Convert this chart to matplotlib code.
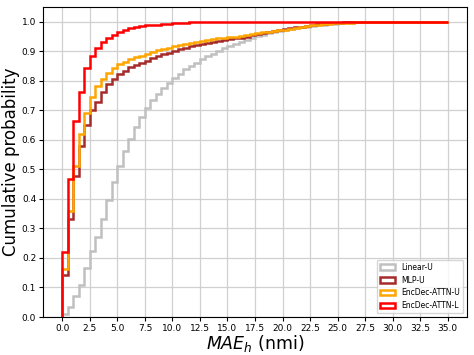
import numpy as np
import matplotlib
matplotlib.use('Agg')
import matplotlib.pyplot as plt
from matplotlib.patches import Patch

# bin edges of the cumulative histograms (nmi)
edges = np.arange(0, 35.5, 0.5)

# cumulative probability per bin
linear_u = [0.010, 0.033, 0.070, 0.110, 0.165, 0.223, 0.270, 0.333, 0.397, 0.458,
            0.511, 0.562, 0.604, 0.643, 0.678, 0.708, 0.734, 0.757, 0.777, 0.794,
            0.811, 0.824, 0.839, 0.850, 0.862, 0.873, 0.884, 0.892, 0.901, 0.910,
            0.918, 0.926, 0.933, 0.940, 0.946, 0.952, 0.957, 0.962, 0.966, 0.969,
            0.972, 0.975, 0.978, 0.981, 0.984, 0.986, 0.988, 0.990, 0.992, 0.994,
            0.995, 0.996, 0.997, 0.998, 0.998, 0.999, 0.999, 0.999, 0.999, 0.999,
            0.999, 0.999, 1.000, 1.000, 1.000, 1.000, 1.000, 1.000, 1.000, 1.000]
mlp_u = [0.142, 0.332, 0.478, 0.580, 0.652, 0.700, 0.729, 0.762, 0.789, 0.808,
         0.822, 0.835, 0.846, 0.854, 0.862, 0.869, 0.876, 0.883, 0.890, 0.896,
         0.901, 0.907, 0.912, 0.917, 0.921, 0.926, 0.929, 0.933, 0.936, 0.940,
         0.942, 0.944, 0.946, 0.950, 0.954, 0.958, 0.962, 0.966, 0.969, 0.972,
         0.975, 0.978, 0.981, 0.984, 0.987, 0.990, 0.992, 0.994, 0.995, 0.996,
         0.997, 0.998, 0.998, 0.999, 0.999, 0.999, 1.000, 1.000, 1.000, 1.000,
         1.000, 1.000, 1.000, 1.000, 1.000, 1.000, 1.000, 1.000, 1.000, 1.000]
encdec_u = [0.164, 0.359, 0.510, 0.619, 0.691, 0.746, 0.782, 0.808, 0.828, 0.845,
            0.856, 0.865, 0.873, 0.880, 0.886, 0.892, 0.898, 0.903, 0.907, 0.912,
            0.917, 0.921, 0.926, 0.929, 0.933, 0.936, 0.938, 0.941, 0.944, 0.946,
            0.948, 0.950, 0.952, 0.955, 0.958, 0.961, 0.964, 0.967, 0.969, 0.971,
            0.974, 0.977, 0.980, 0.983, 0.986, 0.988, 0.990, 0.992, 0.994, 0.995,
            0.996, 0.997, 0.997, 0.998, 0.998, 0.998, 0.998, 0.999, 0.999, 0.999,
            0.999, 0.999, 0.999, 0.999, 0.999, 1.000, 1.000, 1.000, 1.000, 1.000]
encdec_l = [0.220, 0.469, 0.664, 0.763, 0.845, 0.884, 0.912, 0.933, 0.944, 0.955,
            0.966, 0.972, 0.978, 0.982, 0.986, 0.988, 0.990, 0.991, 0.993, 0.994,
            0.995, 0.996, 0.997, 0.998, 0.998, 0.999, 0.999, 0.999, 0.999, 0.999,
            1.000, 1.000, 1.000, 1.000, 1.000, 1.000, 1.000, 1.000, 1.000, 1.000,
            1.000, 1.000, 1.000, 1.000, 1.000, 1.000, 1.000, 1.000, 1.000, 1.000,
            1.000, 1.000, 1.000, 1.000, 1.000, 1.000, 1.000, 1.000, 1.000, 1.000,
            1.000, 1.000, 1.000, 1.000, 1.000, 1.000, 1.000, 1.000, 1.000, 1.000]

labels = ['Linear-U', 'MLP-U', 'EncDec-ATTN-U', 'EncDec-ATTN-L']
series = [linear_u, mlp_u, encdec_u, encdec_l]
colors = ['#c0c0c0', '#a52a2a', 'orange', 'red']

fig = plt.figure(figsize=(4.74, 3.55), dpi=100)
ax = fig.add_axes([0.091, 0.107, 0.894, 0.873])

# step lines: start from 0 at the first edge, no drop at the right end
for vals, c in zip(series, colors):
    ax.stairs(np.r_[0, vals], np.r_[edges[0], edges], baseline=None,
              color=c, linewidth=1.8)

ax.set_xlim(-1.75, 36.75)
ax.set_ylim(0, 1.05)
ax.set_xticks(np.arange(0, 35.1, 2.5))
ax.set_yticks(np.arange(0, 1.01, 0.1))
ax.tick_params(labelsize=6.5, length=3, pad=2)
ax.grid(True, color='#d0d0d0', linewidth=0.9)
ax.set_axisbelow(True)

ax.set_xlabel('$MAE_h$ (nmi)', fontsize=12.5, labelpad=0)
ax.set_ylabel('Cumulative probability', fontsize=12, labelpad=1.5)

handles = [Patch(facecolor='white', edgecolor=c, linewidth=1.8) for c in colors]
ax.legend(handles, labels, loc='lower right', fontsize=5.5)

fig.savefig('out.png', dpi=100)
